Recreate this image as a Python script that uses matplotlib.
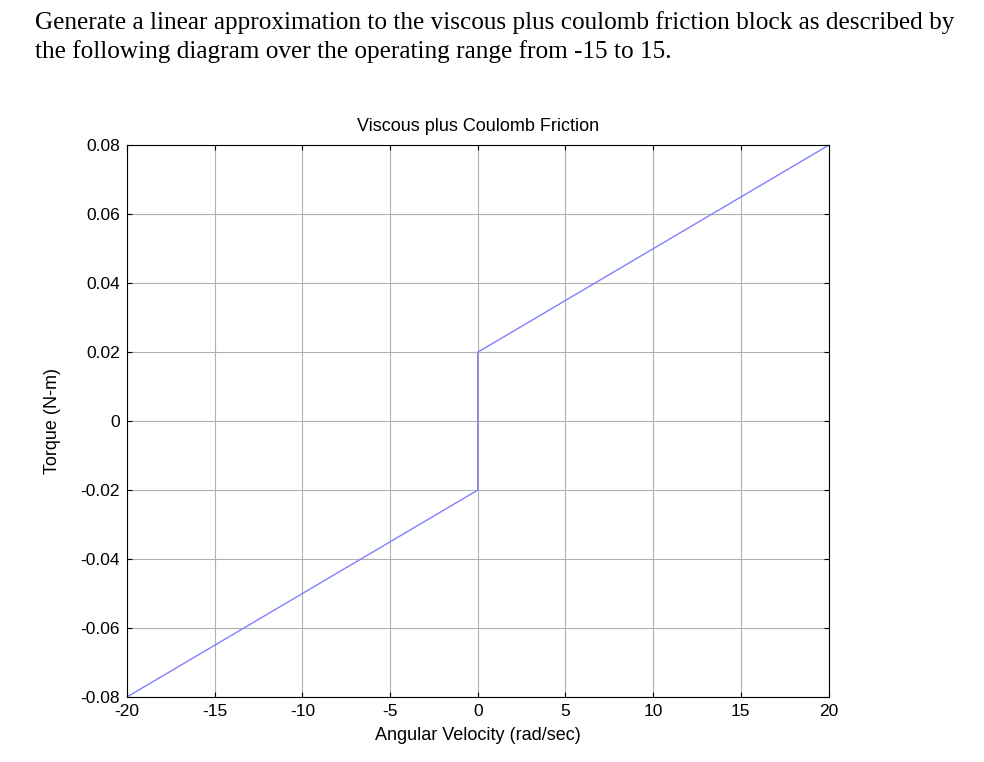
import matplotlib
matplotlib.use('Agg')
import matplotlib.pyplot as plt

# friction curve: viscous slope plus coulomb step at zero
velocity = [-20, 0, 0, 20]
torque = [-0.08, -0.02, 0.02, 0.08]
xticks = [-20, -15, -10, -5, 0, 5, 10, 15, 20]
yticks = [-0.08, -0.06, -0.04, -0.02, 0, 0.02, 0.04, 0.06, 0.08]
ylabels = ['-0.08', '-0.06', '-0.04', '-0.02', '0', '0.02', '0.04', '0.06', '0.08']

plt.rcParams['font.family'] = ['Liberation Sans', 'DejaVu Sans']

fig = plt.figure(figsize=(9.84, 7.62), dpi=100)

# header text from the problem statement
fig.text(0.036, 0.985, 'Generate a linear approximation to the viscous plus coulomb friction block as described by',
         family='Liberation Serif', fontsize=18.2, va='top')
fig.text(0.036, 0.947, 'the following diagram over the operating range from -15 to 15.',
         family='Liberation Serif', fontsize=18.2, va='top')

ax = fig.add_axes([0.129, 0.0853, 0.713, 0.724])
ax.plot(velocity, torque, color='#8080ff', lw=1)
ax.set_xlim(-20, 20)
ax.set_ylim(-0.08, 0.08)
ax.set_xticks(xticks)
ax.set_xticklabels([str(t) for t in xticks])
ax.set_yticks(yticks)
ax.set_yticklabels(ylabels)
ax.grid(True, color='#b0b0b0', lw=0.8)
ax.tick_params(direction='in', top=True, right=True, labelsize=12.5, pad=5)
for s in ax.spines.values():
    s.set_linewidth(0.8)
ax.set_title('Viscous plus Coulomb Friction', fontsize=13, pad=10)
ax.set_xlabel('Angular Velocity (rad/sec)', fontsize=13, labelpad=6)
ax.set_ylabel('Torque (N-m)', fontsize=13, labelpad=14)

fig.savefig('out.png', dpi=100)
